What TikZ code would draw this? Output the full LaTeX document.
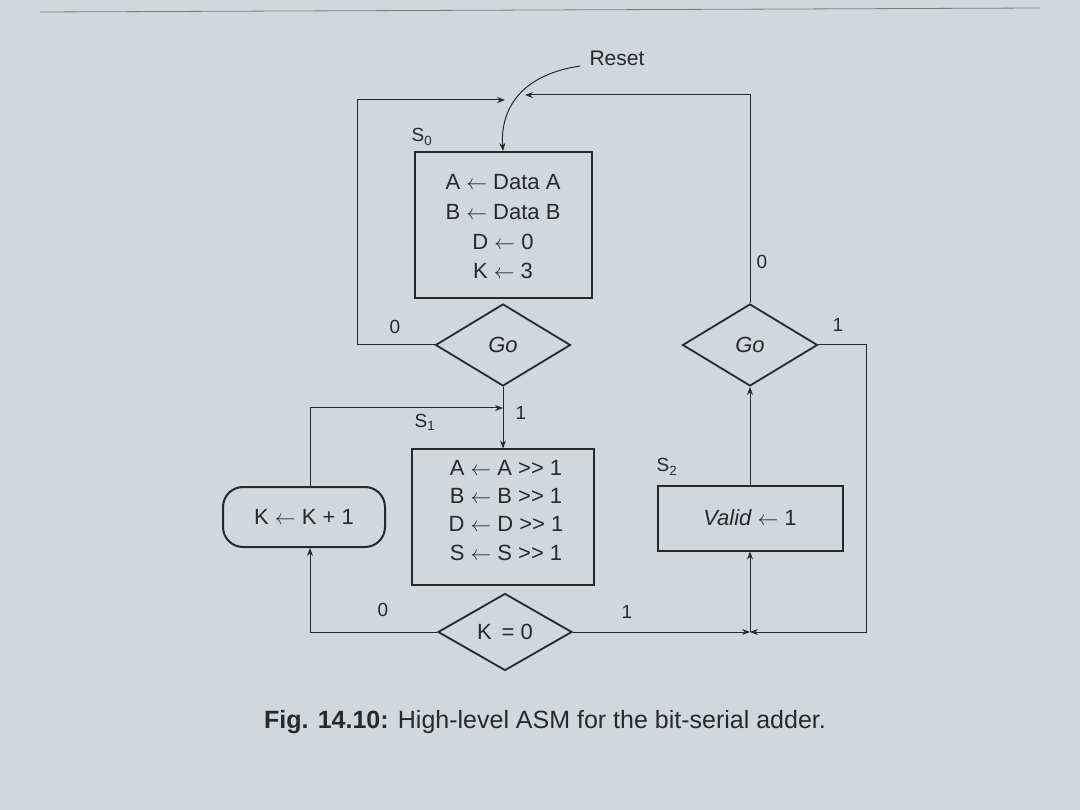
\documentclass[tikz,border=0pt]{standalone}
\usepackage{fontspec}
\setmainfont{Liberation Sans}
\usetikzlibrary{shapes.geometric,arrows.meta}
\definecolor{bg}{RGB}{208,216,220}
\definecolor{ink}{RGB}{40,40,45}
\newcommand{\shr}{{>}{>}}
\begin{document}
\begin{tikzpicture}[x=1pt,y=-1pt,
  every node/.style={text=ink,font=\fontsize{22}{26}\selectfont},
  box/.style={draw=ink,line width=2pt,minimum width=177pt,inner sep=0pt},
  dia/.style={draw=ink,line width=1.8pt,diamond,aspect=1.75,minimum width=135pt,minimum height=82pt,inner sep=0pt},
  ln/.style={draw=ink,line width=1pt},
  arr/.style={ln,-{Stealth[length=8pt,width=6pt]}},
  lab/.style={font=\fontsize{19}{22}\selectfont}]
\fill[bg] (0,0) rectangle (1080,810);
\useasboundingbox (0,0) rectangle (1080,810);
\draw[ink!60,line width=0.8pt] (40,12) -- (1040,8);
% S0
\node[box,minimum width=177pt,minimum height=146pt] (s0) at (503,225) {};
\node at (503,182) {A $\leftarrow$ Data A};
\node at (503,212) {B $\leftarrow$ Data B};
\node at (503,242) {D $\leftarrow$ 0};
\node at (503,271) {K $\leftarrow$ 3};
\node[lab] (s0l) at (422,137) {S\textsubscript{0}};
\node[dia] (go1) at (503,345) {\itshape Go};
% Reset
\node[lab,font=\fontsize{21}{24}\selectfont] (reset) at (617,58) {Reset};
\draw[arr] (580,66) .. controls (520,75) and (500,110) .. (s0.north);
% loop from go1 left
\coordinate (c1) at (357,345); \coordinate (c2) at (357,100); \coordinate (c3) at (505,100);
\draw[arr] (go1.west) -- (c1) -- (c2) -- (c3);
\node[lab] at (395,327) {0};
% S1
\node[box,minimum width=182pt,minimum height=135pt] (s1) at (503,517) {};
\node at (506,468) {A $\leftarrow$ A \shr\ 1};
\node at (506,496) {B $\leftarrow$ B \shr\ 1};
\node at (506,524) {D $\leftarrow$ D \shr\ 1};
\node at (506,553) {S $\leftarrow$ S \shr\ 1};
\node[lab] at (425,422) {S\textsubscript{1}};
\draw[arr] (go1.south) -- (s1.north);
\node[lab] at (521,413) {1};
% K<-K+1
\node[draw=ink,line width=2pt,rounded corners=20pt,minimum width=162pt,minimum height=60pt] (kk) at (304,517) {K $\leftarrow$ K + 1};
\coordinate (k1) at (310,408); \coordinate (k2) at (503,408);
\draw[arr] (kk.north -| k1) -- (k1) -- (k2);
% K=0
\node[dia,minimum width=134pt,minimum height=77pt] (kz) at (505,632) {K \,= 0};
\coordinate (k3) at (310,632);
\draw[arr] (kz.west) -- (k3) -- (kk.south -| k3);
\node[lab] at (383,610) {0};
\node[lab] at (627,612) {1};
\coordinate (j) at (750,632);
\draw[arr] (kz.east) -- (j);
% S2
\node[box,minimum width=185pt,minimum height=65pt] (val) at (750,518) {\itshape Valid \upshape$\leftarrow$ 1};
\node[lab] at (667,467) {S\textsubscript{2}};
\node[dia] (go2) at (750,345) {\itshape Go};
\draw[arr] (j) -- (val.south);
\draw[arr] (val.north) -- (go2.south);
\coordinate (r1) at (750,95); \coordinate (r2) at (525,95);
\draw[arr] (go2.north) -- (r1) -- (r2);
\node[lab] at (762,262) {0};
\coordinate (g1) at (866,345); \coordinate (g2) at (866,632);
\draw[arr] (go2.east) -- (g1) -- (g2) -- (j);
\node[lab] at (838,325) {1};
% caption
\node[font=\fontsize{25}{29}\selectfont] at (545,722) {\textbf{Fig. 14.10:} High-level ASM for the bit-serial adder.};
\end{tikzpicture}
\end{document}
